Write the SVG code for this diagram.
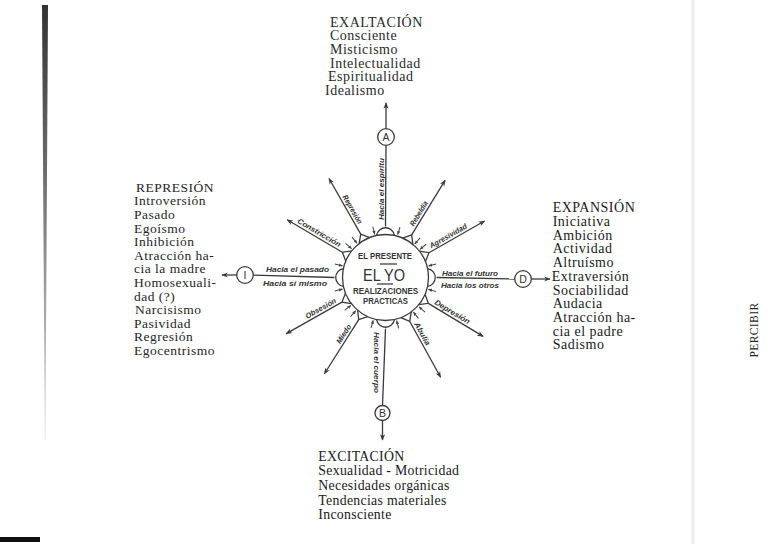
<svg xmlns="http://www.w3.org/2000/svg" width="768" height="544" viewBox="0 0 768 544">
<defs>
<style>
.blk{font-family:"Liberation Serif","Times New Roman",serif;font-size:13.5px;letter-spacing:0.5px;fill:#262626}
.top{font-family:"Liberation Serif","Times New Roman",serif;font-size:14px;letter-spacing:0.5px;fill:#2a2a2a}
.blk2{font-family:"Liberation Serif","Times New Roman",serif;font-size:14px;letter-spacing:0.5px;fill:#1a1a1a}
.bot{font-family:"Liberation Serif","Times New Roman",serif;font-size:13.8px;letter-spacing:0.3px;fill:#1a1a1a}
.lbl{font-family:"Liberation Sans",Arial,sans-serif;font-size:7.5px;font-style:italic;font-weight:bold;fill:#333}
.ln{stroke:#3a3a3a;stroke-width:1.3;fill:none}
.in{font-family:"Liberation Sans",Arial,sans-serif;fill:#333;text-anchor:middle}
.ltr{font-family:"Liberation Sans",Arial,sans-serif;font-size:10.5px;fill:#333;text-anchor:middle}
.nc{fill:#fff;stroke:#3a3a3a;stroke-width:1.3}
</style>
<marker id="ah" viewBox="0 0 10 10" refX="9" refY="5" markerWidth="5" markerHeight="5" orient="auto"><path d="M0,1 L10,5 L0,9 L3,5 z" fill="#3a3a3a"/></marker>
<marker id="th" viewBox="0 0 10 10" refX="9" refY="5" markerUnits="userSpaceOnUse" markerWidth="4" markerHeight="4" orient="auto"><path d="M0,1 L10,5 L0,9 z" fill="#444"/></marker>
<g id="ray">
<path class="ln" d="M428.1,271.5 L435.5,277.5 L428.1,283.5"/>
<line class="ln" x1="435.5" y1="277.5" x2="499.5" y2="277.5" marker-end="url(#ah)"/>
</g>
<line id="tick" x1="438" y1="277.5" x2="430" y2="277.5" stroke="#444" stroke-width="1" marker-end="url(#th)"/>
<linearGradient id="edge" x1="0" y1="0" x2="0" y2="1">
<stop offset="0" stop-color="#333"/>
<stop offset="0.45" stop-color="#777"/>
<stop offset="1" stop-color="#e0e0e0"/>
</linearGradient>
</defs>

<rect width="768" height="544" fill="#fff"/>

<g id="scan">
<polygon points="42,5 48,5 45.4,440 44.8,440" fill="url(#edge)"/>
<rect x="0" y="537" width="40" height="5" fill="#111"/>
<line x1="693" y1="0" x2="693" y2="544" stroke="#ececec" stroke-width="3"/>
</g>

<g id="connectors">
<use href="#ray" transform="rotate(-149.6 385.5 277.5)"/>
<use href="#ray" transform="rotate(-119.7 385.5 277.5)"/>
<use href="#ray" transform="rotate(-58.5 385.5 277.5)"/>
<use href="#ray" transform="rotate(-29.7 385.5 277.5)"/>
<use href="#ray" transform="rotate(31.1 385.5 277.5)"/>
<use href="#ray" transform="rotate(61.1 385.5 277.5)"/>
<use href="#ray" transform="rotate(122.4 385.5 277.5)"/>
<use href="#ray" transform="rotate(150.5 385.5 277.5)"/>
<line class="ln" x1="385.5" y1="226.4" x2="386" y2="145.3"/>
<line class="ln" x1="386" y1="128.7" x2="386" y2="103" marker-end="url(#ah)"/>
<line class="ln" x1="385.5" y1="328.6" x2="382.5" y2="405.5"/>
<line class="ln" x1="382.5" y1="420.5" x2="382.5" y2="440" marker-end="url(#ah)"/>
<line class="ln" x1="334.4" y1="277.5" x2="253.3" y2="275.2"/>
<line class="ln" x1="236.7" y1="275" x2="222" y2="275" marker-end="url(#ah)"/>
<line class="ln" x1="436.6" y1="277.5" x2="514.7" y2="279"/>
<line class="ln" x1="531.3" y1="279" x2="550" y2="279" marker-end="url(#ah)"/>
<text class="lbl" transform="rotate(30.4 385.5 277.5)" x="305.5" y="275" text-anchor="middle" textLength="49" lengthAdjust="spacingAndGlyphs">Constricción</text>
<text class="lbl" transform="rotate(60.3 385.5 277.5)" x="310" y="275" text-anchor="middle" textLength="32" lengthAdjust="spacingAndGlyphs">Represión</text>
<text class="lbl" transform="rotate(-58.5 385.5 277.5)" x="457.5" y="275" text-anchor="middle" textLength="28" lengthAdjust="spacingAndGlyphs">Rebeldía</text>
<text class="lbl" transform="rotate(-29.7 385.5 277.5)" x="460.5" y="275" text-anchor="middle" textLength="42" lengthAdjust="spacingAndGlyphs">Agresividad</text>
<text class="lbl" transform="rotate(31.1 385.5 277.5)" x="460.5" y="275" text-anchor="middle" textLength="40" lengthAdjust="spacingAndGlyphs">Depresión</text>
<text class="lbl" transform="rotate(61.1 385.5 277.5)" x="452.5" y="275" text-anchor="middle" textLength="25" lengthAdjust="spacingAndGlyphs">Abulia</text>
<text class="lbl" transform="rotate(-57.6 385.5 277.5)" x="315.5" y="275" text-anchor="middle" textLength="21" lengthAdjust="spacingAndGlyphs">Miedo</text>
<text class="lbl" transform="rotate(-29.5 385.5 277.5)" x="314" y="275" text-anchor="middle" textLength="34" lengthAdjust="spacingAndGlyphs">Obsesión</text>
<text class="lbl" transform="translate(383.5 189) rotate(-90)" text-anchor="middle" textLength="62" lengthAdjust="spacingAndGlyphs">Hacia el espíritu</text>
<text class="lbl" transform="translate(374 362.5) rotate(90)" text-anchor="middle" textLength="61" lengthAdjust="spacingAndGlyphs">Hacia el cuerpo</text>
<text class="lbl" x="266" y="271.5" textLength="63" lengthAdjust="spacingAndGlyphs">Hacia el pasado</text>
<text class="lbl" x="263" y="286" textLength="64" lengthAdjust="spacingAndGlyphs">Hacia sí mismo</text>
<text class="lbl" x="442" y="276" textLength="56" lengthAdjust="spacingAndGlyphs">Hacia el futuro</text>
<text class="lbl" x="441" y="287.5" textLength="58" lengthAdjust="spacingAndGlyphs">Hacia los otros</text>
</g>

<g id="center">
<circle cx="385.5" cy="277.5" r="43" class="ln"/>
<path class="ln" d="M376.6,235.4 A9,9 0 0 1 394.4,235.4"/>
<path class="ln" d="M376.6,319.6 A9,9 0 0 0 394.4,319.6"/>
<path class="ln" d="M343.4,268.6 A9,9 0 0 0 343.4,286.4"/>
<path class="ln" d="M427.6,268.6 A9,9 0 0 1 427.6,286.4"/>
<g id="ticks">
<use href="#tick" transform="rotate(-165 385.5 277.5)"/>
<use href="#tick" transform="rotate(-139.6 385.5 277.5)"/>
<use href="#tick" transform="rotate(-129.7 385.5 277.5)"/>
<use href="#tick" transform="rotate(-104 385.5 277.5)"/>
<use href="#tick" transform="rotate(-74 385.5 277.5)"/>
<use href="#tick" transform="rotate(-48.9 385.5 277.5)"/>
<use href="#tick" transform="rotate(-39.3 385.5 277.5)"/>
<use href="#tick" transform="rotate(-15 385.5 277.5)"/>
<use href="#tick" transform="rotate(15.5 385.5 277.5)"/>
<use href="#tick" transform="rotate(41.1 385.5 277.5)"/>
<use href="#tick" transform="rotate(51.1 385.5 277.5)"/>
<use href="#tick" transform="rotate(75.5 385.5 277.5)"/>
<use href="#tick" transform="rotate(106 385.5 277.5)"/>
<use href="#tick" transform="rotate(131.8 385.5 277.5)"/>
<use href="#tick" transform="rotate(141.1 385.5 277.5)"/>
<use href="#tick" transform="rotate(165 385.5 277.5)"/>
</g>
<text class="in" x="385" y="258.5" font-size="9" font-weight="bold" textLength="54" lengthAdjust="spacingAndGlyphs">EL PRESENTE</text>
<line x1="380" y1="264" x2="397" y2="264" stroke="#333" stroke-width="1.2"/>
<text class="in" x="384" y="280.5" font-size="17" textLength="42" lengthAdjust="spacingAndGlyphs">EL YO</text>
<line x1="377" y1="284" x2="393" y2="284" stroke="#333" stroke-width="1.2"/>
<text class="in" x="385.5" y="294" font-size="9.5" font-weight="bold" textLength="65" lengthAdjust="spacingAndGlyphs">REALIZACIONES</text>
<text class="in" x="385.5" y="304" font-size="9.5" font-weight="bold" textLength="45" lengthAdjust="spacingAndGlyphs">PRACTICAS</text>
</g>

<g id="node-A"><circle class="nc" cx="386" cy="137" r="8.3"/><text class="ltr" x="386" y="141">A</text></g>
<g id="node-B"><circle class="nc" cx="382.5" cy="413" r="7.5"/><text class="ltr" x="382.5" y="417">B</text></g>
<g id="node-I"><circle class="nc" cx="245" cy="275" r="8.3"/><text class="ltr" x="245" y="279" font-family="Liberation Serif">I</text></g>
<g id="node-D"><circle class="nc" cx="523" cy="279" r="8.3"/><text class="ltr" x="523" y="283">D</text></g>

<g id="exaltacion" class="top">
<text x="330" y="26.5">EXALTACIÓN</text>
<text x="330" y="40.2">Consciente</text>
<text x="330" y="53.9">Misticismo</text>
<text x="330" y="67.6">Intelectualidad</text>
<text x="328" y="81.3">Espiritualidad</text>
<text x="325" y="95">Idealismo</text>
</g>

<g id="represion" class="blk">
<text x="136" y="191.7">REPRESIÓN</text>
<text x="134" y="205.3">Introversión</text>
<text x="134" y="218.9">Pasado</text>
<text x="134" y="232.5">Egoísmo</text>
<text x="134" y="246.1">Inhibición</text>
<text x="134" y="259.7">Atracción ha-</text>
<text x="134" y="273.3">cia la madre</text>
<text x="134" y="286.9">Homosexuali-</text>
<text x="134" y="300.5">dad (?)</text>
<text x="135" y="314.1">Narcisismo</text>
<text x="134" y="327.7">Pasividad</text>
<text x="134" y="341.3">Regresión</text>
<text x="134" y="354.9">Egocentrismo</text>
</g>

<g id="expansion" class="blk2">
<text x="552.7" y="212.3">EXPANSIÓN</text>
<text x="552.7" y="226">Iniciativa</text>
<text x="552.7" y="239.7">Ambición</text>
<text x="552.7" y="253.4">Actividad</text>
<text x="552.7" y="267.1">Altruísmo</text>
<text x="551.7" y="280.8">Extraversión</text>
<text x="552.7" y="294.5">Sociabilidad</text>
<text x="552.7" y="308.2">Audacia</text>
<text x="552.7" y="321.9">Atracción ha-</text>
<text x="552.7" y="335.6">cia el padre</text>
<text x="552.7" y="349.3">Sadismo</text>
</g>

<g id="excitacion" class="bot">
<text x="318.3" y="460.5">EXCITACIÓN</text>
<text x="318.3" y="475.3">Sexualidad - Motricidad</text>
<text x="318.3" y="490.1">Necesidades orgánicas</text>
<text x="318.3" y="504.6">Tendencias materiales</text>
<text x="318.3" y="518.8">Inconsciente</text>
</g>

<g id="percibir">
<text class="blk" font-size="11" letter-spacing="0" transform="translate(758 330) rotate(-90)" text-anchor="middle" textLength="55" lengthAdjust="spacingAndGlyphs">PERCIBIR</text>
</g>
</svg>
